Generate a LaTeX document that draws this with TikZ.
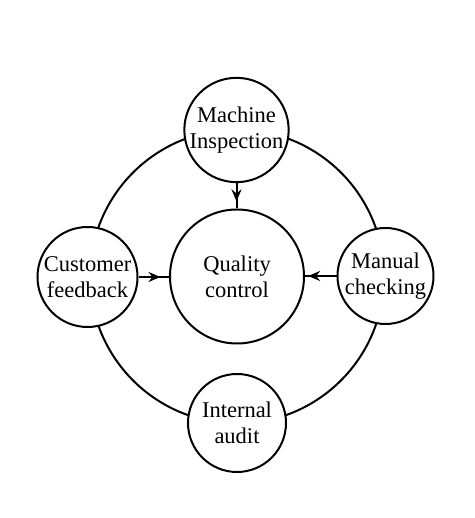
\documentclass[tikz,border=0pt]{standalone}
\usepackage{fontspec}
\setmainfont{Liberation Serif}
\usetikzlibrary{arrows.meta,decorations.markings}
\begin{document}
\begin{tikzpicture}[x=1pt,y=1pt,
  every node/.style={font=\fontsize{22.5}{26}\selectfont},
  bub/.style={circle,draw,line width=2pt,fill=white,inner sep=0pt,align=center},
  conn/.style={line width=2pt},
  tipat/.style={postaction={decorate},decoration={markings,
     mark=at position #1 with {\arrow{Stealth[length=12pt,width=10pt,inset=4pt]}}}}]
\useasboundingbox (0,0) rectangle (474,518);
\coordinate (ringc) at (237,241.5);
\draw[conn] (ringc) circle[radius=147];
\node[bub,minimum size=134pt] (Q) at (237,241.5) {Quality\\control};
\node[bub,minimum size=100pt] (T) at (236.5,388) {Machine\\Inspection};
\node[bub,minimum size=98pt] (B) at (237,95) {Internal\\audit};
\node[bub,minimum size=100pt] (L) at (87.5,241) {Customer\\feedback};
\node[bub,minimum size=96pt] (R) at (385.5,242) {Manual\\checking};
\draw[conn,tipat=0.72] (T.south) -- (T.south |- Q.north);
\draw[conn,tipat=0.72] (L.east) -- (L.east -| Q.west);
\draw[conn,tipat=0.9] (R.west) -- (R.west -| Q.east);
\draw[conn,tipat=0.9] (B.north) -- (B.north -| Q.south);
\end{tikzpicture}
\end{document}
